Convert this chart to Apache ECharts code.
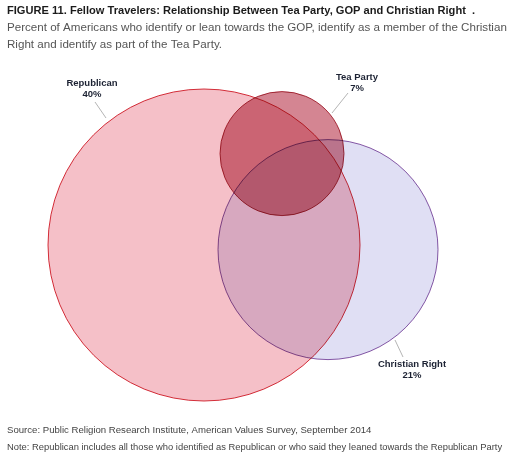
<!DOCTYPE html>
<html><head><meta charset="utf-8">
<script src="https://cdn.jsdelivr.net/npm/echarts@6/dist/echarts.min.js"></script>
<style>html,body{margin:0;padding:0;background:#fff}#c{width:515px;height:457px}</style>
</head><body><div id="c"></div><script>
// Sets in the Venn diagram
const setNames = ['Republican', 'Tea Party', 'Christian Right'];
const setPercents = ['40%', '7%', '21%'];
// circle centres and radii, in diagram units
const centerX = [40, 59.5, 71];
const centerY = [39.75, 62.6, 38.6];
const radius = [39, 15.5, 27.5];
// label anchor (text centre) and leader line ends, in diagram units
const labelX = [12, 78.25, 92];
const labelY = [78.75, 80.25, 8.5];
const leaderFrom = [[12.75, 75.5], [76, 77.75], [87.75, 16]];
const leaderTo = [[15.5, 71.5], [72, 72.75], [89.75, 11.75]];

const titleText = 'FIGURE 11. Fellow Travelers: Relationship Between Tea Party, GOP and Christian Right  .';
const subtitleLines = [
  'Percent of Americans who identify or lean towards the GOP, identify as a member of the Christian',
  'Right and identify as part of the Tea Party.'
];
const sourceText = 'Source: Public Religion Research Institute, American Values Survey, September 2014';
const noteText = 'Note: Republican includes all those who identified as Republican or who said they leaned towards the Republican Party';

const fills = ['#f5c0c8', '#d48592', '#e0dff4'];
const strokes = ['#d8323e', '#b83a4a', '#8a5aa8'];
const drawOrder = [2, 0, 1];

const chart = echarts.init(document.getElementById('c'), null, {renderer: 'canvas'});
const FONT = '"Liberation Sans", Arial, sans-serif';

chart.setOption({
  animation: false,
  backgroundColor: '#fff',
  grid: {left: 44, top: 84, width: 400, height: 320},
  xAxis: {type: 'value', min: 0, max: 100, show: false},
  yAxis: {type: 'value', min: 0, max: 80, show: false},
  graphic: [
    {type: 'text', left: 7, top: 5, style: {text: titleText, font: 'bold 11.1px ' + FONT, fill: '#1b1b1b'}},
    {type: 'text', left: 7, top: 22, style: {text: subtitleLines[0], font: '11.6px ' + FONT, fill: '#555'}},
    {type: 'text', left: 7, top: 39, style: {text: subtitleLines[1], font: '11.6px ' + FONT, fill: '#555'}},
    {type: 'text', left: 7, top: 425, style: {text: sourceText, font: '9.6px ' + FONT, fill: '#444'}},
    {type: 'text', left: 7, top: 443, style: {text: noteText, font: '9.4px ' + FONT, fill: '#444'}}
  ],
  series: [
    {
      type: 'custom',
      coordinateSystem: 'cartesian2d',
      blendMode: 'multiply',
      data: drawOrder.map(i => [centerX[i], centerY[i], radius[i], i]),
      renderItem: function (params, api) {
        const i = api.value(3);
        const c = api.coord([api.value(0), api.value(1)]);
        const s = api.size([api.value(2), api.value(2)]);
        return {
          type: 'circle',
          shape: {cx: c[0], cy: c[1], r: s[0]},
          style: {fill: fills[i], stroke: strokes[i], lineWidth: 1}
        };
      }
    },
    {
      type: 'custom',
      coordinateSystem: 'cartesian2d',
      data: setNames.map((n, i) => [labelX[i], labelY[i], i]),
      renderItem: function (params, api) {
        const i = api.value(2);
        const p = api.coord([api.value(0), api.value(1)]);
        const a = api.coord(leaderFrom[i]);
        const b = api.coord(leaderTo[i]);
        return {
          type: 'group',
          children: [
            {type: 'line', shape: {x1: a[0], y1: a[1], x2: b[0], y2: b[1]}, style: {stroke: '#b5b5b5', lineWidth: 1}},
            {type: 'text', x: p[0], y: p[1], style: {
              text: setNames[i] + '\n' + setPercents[i], font: 'bold 9.5px ' + FONT,
              fill: '#1c2233', align: 'center', verticalAlign: 'middle', lineHeight: 11}}
          ]
        };
      }
    }
  ]
});
</script></body></html>
